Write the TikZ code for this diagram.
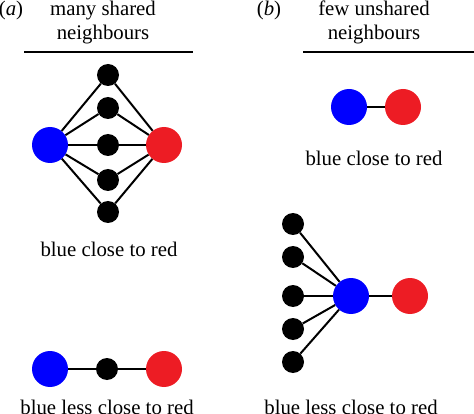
\documentclass[tikz,border=0pt]{standalone}
\usepackage{fontspec}
\setmainfont{Liberation Serif}
\usetikzlibrary{positioning}
\definecolor{dotblue}{RGB}{0,0,255}
\definecolor{dotred}{RGB}{237,28,36}

\begin{document}
\begin{tikzpicture}[x=1pt, y=-1pt,
	dot/.style={circle, inner sep=0pt, minimum size=36pt},
	bluedot/.style={dot, fill=dotblue},
	reddot/.style={dot, fill=dotred},
	blackdot/.style={circle, fill=black, inner sep=0pt, minimum size=22pt},
	edge/.style={line width=2pt},
	caption/.style={anchor=base, inner sep=0pt, align=center, font=\fontsize{20.8}{24}\selectfont}]
		\useasboundingbox (0,0) rectangle (474,414);
		
		% Panel (a): many shared neighbours
		\node[caption] (tagA) at (11,16) {(\textit{a})};
		\node[caption] (headA) at (103,40) {many shared\\neighbours};
		\draw[edge] (24,52) -- (193,52);
		
		\node[bluedot] (blueA) at (50,145) {};
		\node[reddot] (redA) at (164,145) {};
		\foreach \i/\y in {1/75, 2/108, 3/145, 4/180, 5/212} {
			\node[blackdot] (nbA\i) at (108,\y) {};
			\draw[edge] (blueA) -- (nbA\i) -- (redA);
		}
		\node[caption] (closeA) at (109,257) {blue close to red};
		
		% One shared neighbour
		\node[bluedot] (blueA2) at (50,369) {};
		\node[blackdot] (midA2) at (107,369) {};
		\node[reddot] (redA2) at (164,369) {};
		\draw[edge] (blueA2) -- (midA2) -- (redA2);
		\node[caption] (lessA) at (107,414) {blue less close to red};
		
		% Panel (b): few unshared neighbours
		\node[caption] (tagB) at (269,16) {(\textit{b})};
		\node[caption] (headB) at (374,40) {few unshared\\neighbours};
		\draw[edge] (303,52) -- (476,52);
		
		\node[bluedot] (blueB) at (349,107) {};
		\node[reddot] (redB) at (403,107) {};
		\draw[edge] (blueB) -- (redB);
		\node[caption] (closeB) at (374,166) {blue close to red};
		
		% Many unshared neighbours
		\node[bluedot] (blueB2) at (351,296) {};
		\node[reddot] (redB2) at (410,296) {};
		\draw[edge] (blueB2) -- (redB2);
		\foreach \i/\y in {1/224, 2/257, 3/296, 4/329, 5/362} {
			\node[blackdot] (nbB\i) at (293,\y) {};
			\draw[edge] (nbB\i) -- (blueB2);
		}
		\node[caption] (lessB) at (351,414) {blue less close to red};
	\end{tikzpicture}
\end{document}
